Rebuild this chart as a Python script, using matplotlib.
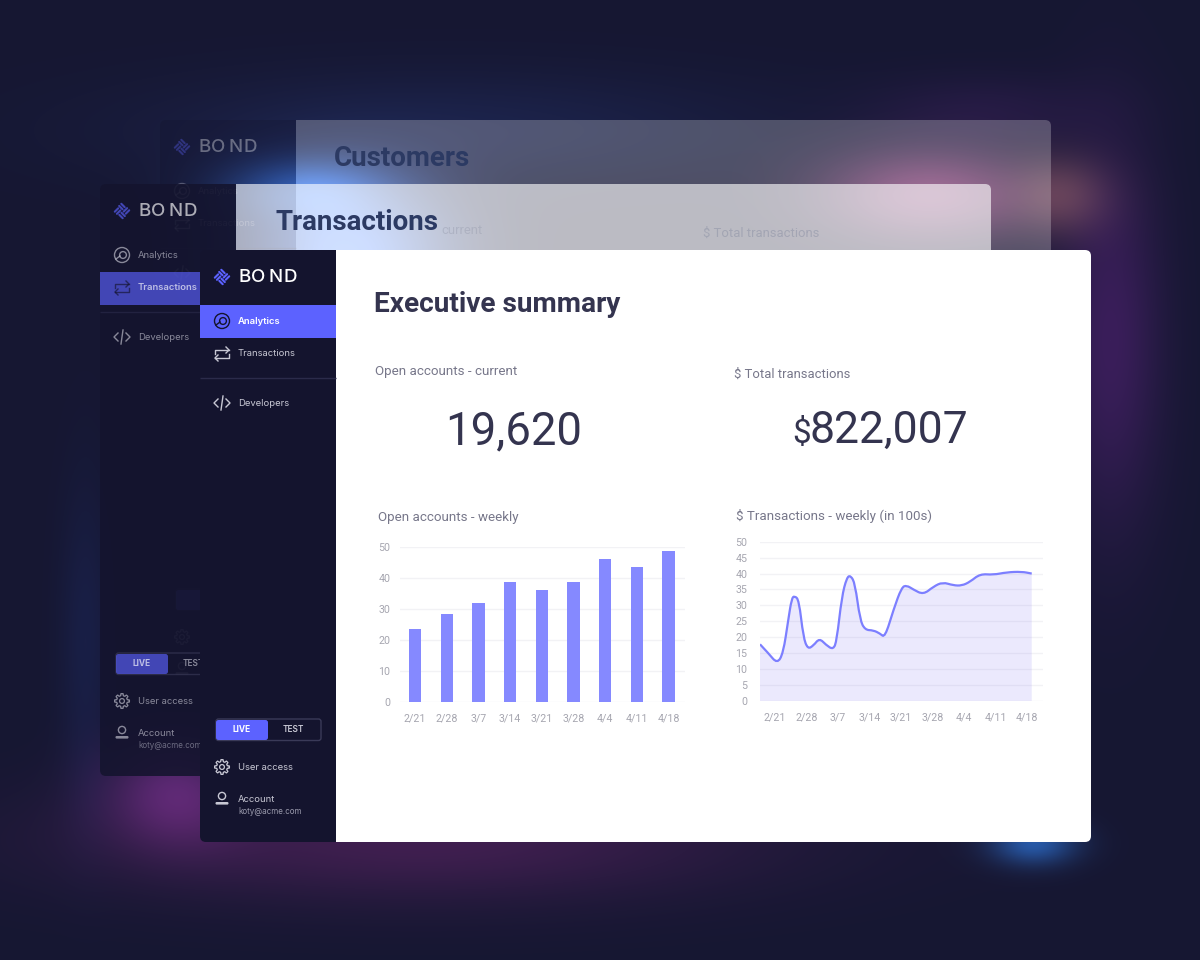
import numpy as np
import matplotlib
matplotlib.use('Agg')
import matplotlib.pyplot as plt
from matplotlib.patches import Rectangle, FancyBboxPatch, Circle, PathPatch
from matplotlib.path import Path

W, H = 1200, 960

# chart data
week_labels = ['2/21', '2/28', '3/7', '3/14', '3/21', '3/28', '4/4', '4/11', '4/18']
open_accounts = [23.5, 28.3, 32, 38.5, 36, 38.5, 46, 43.3, 48.5]
bar_yticks = [0, 10, 20, 30, 40, 50]
line_yticks = [0, 5, 10, 15, 20, 25, 30, 35, 40, 45, 50]
line_weeks = [-0.476, -0.21, 0.07, 0.26, 0.42, 0.53, 0.62, 0.76, 0.90, 1.04, 1.22, 1.41, 1.62,
              1.85, 1.96, 2.12, 2.28, 2.40, 2.54, 2.70, 2.86, 3.12, 3.33, 3.49, 3.76, 4.02,
              4.18, 4.39, 4.71, 5.03, 5.32, 5.66, 5.93, 6.19, 6.51, 6.93, 7.35, 7.83, 8.15]
line_values = [17.8, 15, 11.7, 15, 25.4, 32.2, 33, 31.7, 20, 16.3, 17.4, 19.7, 17.6,
               16.1, 19, 32.7, 38.8, 39.4, 36.9, 25.4, 22.3, 22.2, 21.2, 19.9, 28.6, 35.7,
               36.3, 35, 33.4, 35.9, 37.3, 36.3, 36.2, 37.4, 39.9, 39.6, 40.4, 40.6, 40]

NAVY = '#14142e'
ACCENT = '#5c62ff'
INK = '#34344f'
ICON = '#c8c8d4'
plt.rcParams['font.family'] = ['Roboto', 'DejaVu Sans']

fig = plt.figure(figsize=(W / 100, H / 100), dpi=100)
bg = fig.add_axes([0, 0, 1, 1], zorder=0)
bg.axis('off')

# background glow
yy, xx = np.mgrid[0:H, 0:W]
img = np.zeros((H, W, 3)) + np.array([22, 23, 50])
glows = [
    (345, 255, 70, 50, (70, 125, 220)),
    (300, 190, 55, 22, (20, 60, 110)),
    (450, 130, 220, 40, (6, 12, 25)),
    (930, 195, 75, 32, (105, 38, 65)),
    (985, 110, 80, 25, (14, 3, 16)),
    (1062, 195, 33, 28, (50, 34, 18)),
    (1110, 340, 36, 130, (36, 7, 40)),
    (1033, 843, 30, 15, (16, 65, 115)),
    (420, 840, 230, 42, (42, 8, 30)),
    (175, 790, 50, 38, (60, 16, 58)),
    (85, 640, 18, 110, (3, 8, 20)),
]
for cx, cy, sx, sy, col in glows:
    g = np.exp(-((xx - cx) / sx) ** 2 / 2 - ((yy - cy) / sy) ** 2 / 2)
    img += g[..., None] * np.array(col)
bg.imshow(np.clip(img, 0, 255).astype(np.uint8), extent=(0, W, H, 0), aspect='auto', zorder=0)
bg.set_xlim(0, W)
bg.set_ylim(H, 0)


def logo(dx, dy, a):
    # woven square turned by 45 degrees
    cx, cy = 222 + dx, 277 + dy
    segs = []
    for v in (-4.6, -1.6):
        segs.append(((-5.6, v), (-0.8, v)))
        segs.append(((0.8, -v), (5.6, -v)))
    for u in (1.6, 4.6):
        segs.append(((u, -5.6), (u, -0.8)))
        segs.append(((-u, 0.8), (-u, 5.6)))
    k = np.sqrt(0.5)
    for p, q in segs:
        xs = [cx + k * (p[0] - p[1]), cx + k * (q[0] - q[1])]
        ys = [cy + k * (p[0] + p[1]), cy + k * (q[0] + q[1])]
        bg.plot(xs, ys, color=ACCENT, lw=1.5, alpha=a, solid_capstyle='round')


def wordmark(dx, dy, a):
    for ch, x in zip('BOND', [238, 250.5, 268, 283.5]):
        bg.text(x + dx, 278 + dy, ch, color='white', alpha=a, fontsize=13.5, family='Inter',
                fontweight='medium', va='center', ha='left')


def icon_analytics(cx, cy, a, col):
    bg.add_patch(Circle((cx, cy), 7.5, fill=False, ec=col, lw=1.0, alpha=a))
    bg.add_patch(Circle((cx + 1, cy), 3.4, fill=False, ec=col, lw=1.0, alpha=a))
    bg.plot([cx - 6, cx - 2], [cy + 4, cy + 1], color=col, lw=1.0, alpha=a)


def icon_arrows(cx, cy, a, col):
    bg.plot([cx - 7, cx - 7, cx - 5, cx + 7], [cy, cy - 4, cy - 4, cy - 4], color=col, lw=1.0, alpha=a)
    bg.plot([cx + 4, cx + 7, cx + 4], [cy - 7, cy - 4, cy - 1], color=col, lw=1.0, alpha=a)
    bg.plot([cx + 7, cx + 7, cx + 5, cx - 7], [cy, cy + 4, cy + 4, cy + 4], color=col, lw=1.0, alpha=a)
    bg.plot([cx - 4, cx - 7, cx - 4], [cy + 1, cy + 4, cy + 7], color=col, lw=1.0, alpha=a)


def icon_code(cx, cy, a, col):
    bg.plot([cx - 4, cx - 8, cx - 4], [cy - 4, cy, cy + 4], color=col, lw=1.0, alpha=a)
    bg.plot([cx + 4, cx + 8, cx + 4], [cy - 4, cy, cy + 4], color=col, lw=1.0, alpha=a)
    bg.plot([cx + 1, cx - 1], [cy - 7, cy + 7], color=col, lw=1.0, alpha=a)


def icon_gear(cx, cy, a, col):
    ang = np.linspace(0, 2 * np.pi, 321)
    r = 6.4 + 1.0 * np.clip(3 * np.cos(8 * ang), -1, 1)
    bg.plot(cx + r * np.cos(ang), cy + r * np.sin(ang), color=col, lw=0.9, alpha=a)
    bg.add_patch(Circle((cx, cy), 2.4, fill=False, ec=col, lw=0.9, alpha=a))


def icon_user(cx, cy, a, col):
    bg.add_patch(Circle((cx, cy - 3), 3.6, fill=False, ec=col, lw=1.0, alpha=a))
    bg.add_patch(FancyBboxPatch((cx - 6.5, cy + 3), 13, 2.6, boxstyle='round,pad=0,rounding_size=1.2',
                                fc=col, ec='none', alpha=a))


def screen(dx, dy, face_alpha, a, active, main_alpha, layer, ghost=False):
    before = set(bg.get_children())
    x0, y0, x1, y1 = 200 + dx, 250 + dy, 1091 + dx, 842 + dy
    card = FancyBboxPatch((x0, y0), x1 - x0, y1 - y0, boxstyle='round,pad=0,rounding_size=6',
                          fc='none', ec='none')
    bg.add_patch(card)
    m = Rectangle((x0 + 136, y0), x1 - x0 - 136, y1 - y0, fc='white', ec='none', alpha=main_alpha)
    bg.add_patch(m)
    m.set_clip_path(card)
    s = Rectangle((x0, y0), 136, y1 - y0, fc=NAVY, ec='none', alpha=face_alpha)
    bg.add_patch(s)
    s.set_clip_path(card)

    logo(dx, dy, a)
    wordmark(dx, dy, a)
    rows = {'Analytics': 321, 'Transactions': 354}
    if active:
        bg.add_patch(Rectangle((x0, rows[active] - 16.5 + dy), 136, 33, fc=ACCENT, ec='none', alpha=a))
    icon_analytics(222 + dx, 321 + dy, a, NAVY if active == 'Analytics' else ICON)
    icon_arrows(222 + dx, 354 + dy, a, NAVY if active == 'Transactions' else ICON)
    for name, y in rows.items():
        on = name == active
        bg.text(238 + dx, y + dy, name, color='white' if on else '#c8c8d4', alpha=a, fontsize=6.8,
                fontweight='semibold' if on else 'normal', va='center', family='Inter')
    bg.plot([x0, x0 + 135.5], [378 + dy, 378 + dy], color='#2b2b4a', lw=1, alpha=a, solid_capstyle='butt')
    icon_code(222 + dx, 403 + dy, a, ICON)
    # live / test switch
    bg.add_patch(FancyBboxPatch((216 + dx, 719 + dy), 105, 21.5, boxstyle='round,pad=0,rounding_size=2.5',
                                fc='none', ec='#3a3a58', lw=1, alpha=a))
    bg.add_patch(FancyBboxPatch((216 + dx, 720 + dy), 52, 20, boxstyle='round,pad=0,rounding_size=2.5',
                                fc=ACCENT, ec='none', alpha=a))
    icon_gear(222 + dx, 767 + dy, a, ICON)
    icon_user(222 + dx, 799 + dy, a, ICON)
    if not ghost:
        bg.text(238 + dx, 403 + dy, 'Developers', color='#c8c8d4', alpha=a, fontsize=6.8, va='center', family='Inter')
        bg.text(242 + dx, 730 + dy, 'LIVE', color='white', alpha=a, fontsize=6, fontweight='bold',
                ha='center', va='center', family='Inter')
        bg.text(293 + dx, 730 + dy, 'TEST', color='#c8c8d4', alpha=a, fontsize=6, fontweight='semibold',
                ha='center', va='center', family='Inter')
        bg.text(238 + dx, 767 + dy, 'User access', color='#c8c8d4', alpha=a, fontsize=6.8, va='center', family='Inter')
        bg.text(238 + dx, 799 + dy, 'Account', color='#c8c8d4', alpha=a, fontsize=6.8, va='center', family='Inter')
        bg.text(238 + dx, 811 + dy, 'koty@acme.com', color='#9a9aac', alpha=a, fontsize=5.8, va='center', family='Inter')
    for art in bg.get_children():
        if art not in before:
            art.set_zorder(art.get_zorder() + layer * 10)


def layered_text(layer, *args, **kwargs):
    t = bg.text(*args, **kwargs)
    t.set_zorder(layer * 10 + 3)


# stacked screens, back to front
screen(-40, -130, 0.3, 0.35, None, 0.24, 1, ghost=True)
layered_text(1, 334, 159, 'Customers', color='#2c3a63', fontsize=20, fontweight='bold', va='center')
screen(-100, -66, 0.88, 0.65, 'Transactions', 0.62, 2)
layered_text(2, 275, 223, 'Transactions', color='#2c3a63', fontsize=20, fontweight='bold', va='center')
layered_text(2, 441, 230, 'current', color='#8e93a6', fontsize=9.4, va='center', alpha=0.35)
layered_text(2, 703, 233, '$ Total transactions', color='#8e93a6', fontsize=9.4, va='center', alpha=0.55)
screen(0, 0, 1.0, 1.0, 'Analytics', 1.0, 3)

# main screen texts
layered_text(3, 374, 305, 'Executive summary', color=INK, fontsize=20.2, fontweight='bold', va='center')
layered_text(3, 375, 371, 'Open accounts - current', color='#77778a', fontsize=9.6, va='center')
layered_text(3, 734, 374, '$ Total transactions', color='#77778a', fontsize=9.4, va='center')
layered_text(3, 514, 431, '19,620', color=INK, fontsize=32.8, ha='center', va='center')
layered_text(3, 792, 434, '$', color=INK, fontsize=24, ha='left', va='center')
layered_text(3, 810, 431, '822,007', color=INK, fontsize=32, ha='left', va='center')
layered_text(3, 378, 518, 'Open accounts - weekly', color='#77778a', fontsize=9.6, va='center')
layered_text(3, 736, 516, '$ Transactions - weekly (in 100s)', color='#77778a', fontsize=9.6, va='center')


def chart_axes(left, right, top, bottom, x_zero, spacing, yticks, pad):
    ax = fig.add_axes([left / W, 1 - bottom / H, (right - left) / W, (bottom - top) / H], zorder=2)
    ax.patch.set_alpha(0)
    ax.set_xlim((left - x_zero) / spacing, (right - x_zero) / spacing)
    ax.set_ylim(0, 50)
    ax.set_yticks(yticks)
    ax.set_xticks(range(len(week_labels)))
    ax.set_xticklabels(week_labels)
    ax.tick_params(length=0, labelsize=7.7, labelcolor='#a6a6b0', pad=pad)
    ax.tick_params(axis='x', pad=8.5)
    for sp in ax.spines.values():
        sp.set_visible(False)
    ax.grid(axis='y', color='#f2f2f5', lw=1)
    ax.set_axisbelow(True)
    return ax


ax1 = chart_axes(400, 685, 546.7, 701.7, 415, 31.7, bar_yticks, 7)
ax1.bar(range(len(open_accounts)), open_accounts, width=0.39, color='#8589ff')

ax2 = chart_axes(760, 1043, 541.7, 701, 775, 31.5, line_yticks, 9)
# quadratic segments through the midpoints keep the curve smooth
pts = list(zip(line_weeks, line_values))
verts = [pts[0]]
codes = [Path.MOVETO]
for i in range(1, len(pts) - 1):
    mid = ((pts[i][0] + pts[i + 1][0]) / 2, (pts[i][1] + pts[i + 1][1]) / 2)
    verts += [pts[i], mid]
    codes += [Path.CURVE3, Path.CURVE3]
verts.append(pts[-1])
codes.append(Path.LINETO)
fill_verts = verts + [(line_weeks[-1], 0), (line_weeks[0], 0), verts[0]]
fill_codes = codes + [Path.LINETO, Path.LINETO, Path.CLOSEPOLY]
ax2.add_patch(PathPatch(Path(fill_verts, fill_codes), fc='#6a5cf0', ec='none', alpha=0.13))
ax2.add_patch(PathPatch(Path(verts, codes), fc='none', ec='#7c7fff', lw=1.6))

fig.savefig('out.png', dpi=100)
